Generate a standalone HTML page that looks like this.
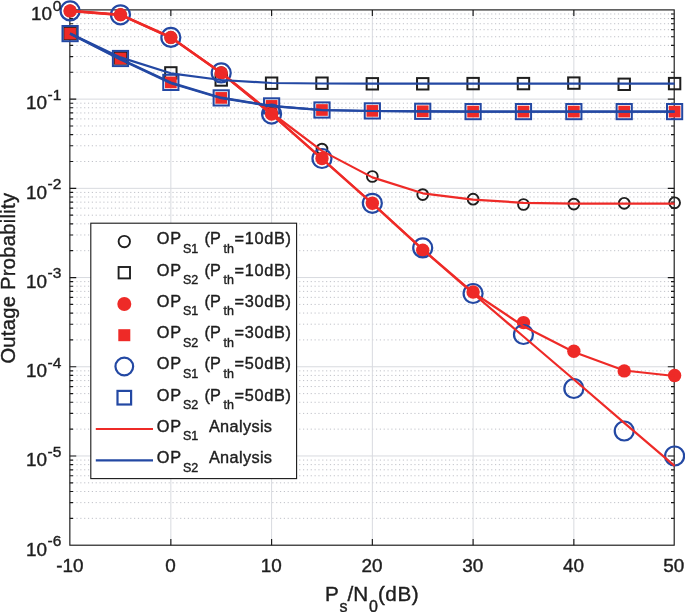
<!DOCTYPE html>
<html><head><meta charset="utf-8"><title>Outage Probability</title>
<style>html,body{margin:0;padding:0;background:#fff}svg{display:block}</style></head>
<body>
<svg width="685" height="612" viewBox="0 0 685 612" font-family="Liberation Sans, sans-serif">
<rect width="685" height="612" fill="#fff"/>
<g stroke="#c0c2c9" stroke-width="1" stroke-dasharray="1.2 2.64" fill="none">
<path d="M72.60 72.26H673.6"/>
<path d="M72.60 56.55H673.6"/>
<path d="M72.60 45.40H673.6"/>
<path d="M72.60 36.76H673.6"/>
<path d="M72.60 29.69H673.6"/>
<path d="M72.60 23.72H673.6"/>
<path d="M72.60 18.55H673.6"/>
<path d="M72.60 13.98H673.6"/>
<path d="M72.60 161.48H673.6"/>
<path d="M72.60 145.77H673.6"/>
<path d="M72.60 134.62H673.6"/>
<path d="M72.60 125.97H673.6"/>
<path d="M72.60 118.91H673.6"/>
<path d="M72.60 112.94H673.6"/>
<path d="M72.60 107.76H673.6"/>
<path d="M72.60 103.20H673.6"/>
<path d="M72.60 250.69H673.6"/>
<path d="M72.60 234.98H673.6"/>
<path d="M72.60 223.84H673.6"/>
<path d="M72.60 215.19H673.6"/>
<path d="M72.60 208.13H673.6"/>
<path d="M72.60 202.15H673.6"/>
<path d="M72.60 196.98H673.6"/>
<path d="M72.60 192.42H673.6"/>
<path d="M72.60 339.91H673.6"/>
<path d="M72.60 324.20H673.6"/>
<path d="M72.60 313.05H673.6"/>
<path d="M72.60 304.41H673.6"/>
<path d="M72.60 297.34H673.6"/>
<path d="M72.60 291.37H673.6"/>
<path d="M72.60 286.20H673.6"/>
<path d="M72.60 281.63H673.6"/>
<path d="M72.60 429.13H673.6"/>
<path d="M72.60 413.42H673.6"/>
<path d="M72.60 402.27H673.6"/>
<path d="M72.60 393.62H673.6"/>
<path d="M72.60 386.56H673.6"/>
<path d="M72.60 380.59H673.6"/>
<path d="M72.60 375.41H673.6"/>
<path d="M72.60 370.85H673.6"/>
<path d="M72.60 518.34H673.6"/>
<path d="M72.60 502.63H673.6"/>
<path d="M72.60 491.49H673.6"/>
<path d="M72.60 482.84H673.6"/>
<path d="M72.60 475.78H673.6"/>
<path d="M72.60 469.80H673.6"/>
<path d="M72.60 464.63H673.6"/>
<path d="M72.60 460.07H673.6"/>
</g>
<g stroke="#d8dadf" stroke-width="1.0" fill="none">
<path d="M70.1 99.12H674.6"/>
<path d="M70.1 188.33H674.6"/>
<path d="M70.1 277.55H674.6"/>
<path d="M70.1 366.77H674.6"/>
<path d="M70.1 455.98H674.6"/>
<path d="M170.85 9.9V545.2"/>
<path d="M271.60 9.9V545.2"/>
<path d="M372.35 9.9V545.2"/>
<path d="M473.10 9.9V545.2"/>
<path d="M573.85 9.9V545.2"/>
</g>
<g stroke="#181818" stroke-width="1.15" fill="none">
<rect x="69.85" y="9.9" width="604.35" height="535.30"/>
<path d="M170.85 545.2v-6.2M170.85 9.9v6.2"/>
<path d="M271.60 545.2v-6.2M271.60 9.9v6.2"/>
<path d="M372.35 545.2v-6.2M372.35 9.9v6.2"/>
<path d="M473.10 545.2v-6.2M473.10 9.9v6.2"/>
<path d="M573.85 545.2v-6.2M573.85 9.9v6.2"/>
<path d="M69.85 72.26h3.2M674.2 72.26h-3.2"/>
<path d="M69.85 56.55h3.2M674.2 56.55h-3.2"/>
<path d="M69.85 45.40h3.2M674.2 45.40h-3.2"/>
<path d="M69.85 36.76h3.2M674.2 36.76h-3.2"/>
<path d="M69.85 29.69h3.2M674.2 29.69h-3.2"/>
<path d="M69.85 23.72h3.2M674.2 23.72h-3.2"/>
<path d="M69.85 18.55h3.2M674.2 18.55h-3.2"/>
<path d="M69.85 13.98h3.2M674.2 13.98h-3.2"/>
<path d="M69.85 99.12h6.4M674.2 99.12h-6.4"/>
<path d="M69.85 161.48h3.2M674.2 161.48h-3.2"/>
<path d="M69.85 145.77h3.2M674.2 145.77h-3.2"/>
<path d="M69.85 134.62h3.2M674.2 134.62h-3.2"/>
<path d="M69.85 125.97h3.2M674.2 125.97h-3.2"/>
<path d="M69.85 118.91h3.2M674.2 118.91h-3.2"/>
<path d="M69.85 112.94h3.2M674.2 112.94h-3.2"/>
<path d="M69.85 107.76h3.2M674.2 107.76h-3.2"/>
<path d="M69.85 103.20h3.2M674.2 103.20h-3.2"/>
<path d="M69.85 188.33h6.4M674.2 188.33h-6.4"/>
<path d="M69.85 250.69h3.2M674.2 250.69h-3.2"/>
<path d="M69.85 234.98h3.2M674.2 234.98h-3.2"/>
<path d="M69.85 223.84h3.2M674.2 223.84h-3.2"/>
<path d="M69.85 215.19h3.2M674.2 215.19h-3.2"/>
<path d="M69.85 208.13h3.2M674.2 208.13h-3.2"/>
<path d="M69.85 202.15h3.2M674.2 202.15h-3.2"/>
<path d="M69.85 196.98h3.2M674.2 196.98h-3.2"/>
<path d="M69.85 192.42h3.2M674.2 192.42h-3.2"/>
<path d="M69.85 277.55h6.4M674.2 277.55h-6.4"/>
<path d="M69.85 339.91h3.2M674.2 339.91h-3.2"/>
<path d="M69.85 324.20h3.2M674.2 324.20h-3.2"/>
<path d="M69.85 313.05h3.2M674.2 313.05h-3.2"/>
<path d="M69.85 304.41h3.2M674.2 304.41h-3.2"/>
<path d="M69.85 297.34h3.2M674.2 297.34h-3.2"/>
<path d="M69.85 291.37h3.2M674.2 291.37h-3.2"/>
<path d="M69.85 286.20h3.2M674.2 286.20h-3.2"/>
<path d="M69.85 281.63h3.2M674.2 281.63h-3.2"/>
<path d="M69.85 366.77h6.4M674.2 366.77h-6.4"/>
<path d="M69.85 429.13h3.2M674.2 429.13h-3.2"/>
<path d="M69.85 413.42h3.2M674.2 413.42h-3.2"/>
<path d="M69.85 402.27h3.2M674.2 402.27h-3.2"/>
<path d="M69.85 393.62h3.2M674.2 393.62h-3.2"/>
<path d="M69.85 386.56h3.2M674.2 386.56h-3.2"/>
<path d="M69.85 380.59h3.2M674.2 380.59h-3.2"/>
<path d="M69.85 375.41h3.2M674.2 375.41h-3.2"/>
<path d="M69.85 370.85h3.2M674.2 370.85h-3.2"/>
<path d="M69.85 455.98h6.4M674.2 455.98h-6.4"/>
<path d="M69.85 518.34h3.2M674.2 518.34h-3.2"/>
<path d="M69.85 502.63h3.2M674.2 502.63h-3.2"/>
<path d="M69.85 491.49h3.2M674.2 491.49h-3.2"/>
<path d="M69.85 482.84h3.2M674.2 482.84h-3.2"/>
<path d="M69.85 475.78h3.2M674.2 475.78h-3.2"/>
<path d="M69.85 469.80h3.2M674.2 469.80h-3.2"/>
<path d="M69.85 464.63h3.2M674.2 464.63h-3.2"/>
<path d="M69.85 460.07h3.2M674.2 460.07h-3.2"/>
</g>
<rect x="64.40" y="27.90" width="11.4" height="11.4" fill="none" stroke="#1f1f1f" stroke-width="2.0"/>
<rect x="114.77" y="52.30" width="11.4" height="11.4" fill="none" stroke="#1f1f1f" stroke-width="2.0"/>
<rect x="165.15" y="67.20" width="11.4" height="11.4" fill="none" stroke="#1f1f1f" stroke-width="2.0"/>
<rect x="215.53" y="74.30" width="11.4" height="11.4" fill="none" stroke="#1f1f1f" stroke-width="2.0"/>
<rect x="265.90" y="77.50" width="11.4" height="11.4" fill="none" stroke="#1f1f1f" stroke-width="2.0"/>
<rect x="316.28" y="77.50" width="11.4" height="11.4" fill="none" stroke="#1f1f1f" stroke-width="2.0"/>
<rect x="366.65" y="78.10" width="11.4" height="11.4" fill="none" stroke="#1f1f1f" stroke-width="2.0"/>
<rect x="417.03" y="78.10" width="11.4" height="11.4" fill="none" stroke="#1f1f1f" stroke-width="2.0"/>
<rect x="467.40" y="77.90" width="11.4" height="11.4" fill="none" stroke="#1f1f1f" stroke-width="2.0"/>
<rect x="517.77" y="77.90" width="11.4" height="11.4" fill="none" stroke="#1f1f1f" stroke-width="2.0"/>
<rect x="568.15" y="77.40" width="11.4" height="11.4" fill="none" stroke="#1f1f1f" stroke-width="2.0"/>
<rect x="618.52" y="78.60" width="11.4" height="11.4" fill="none" stroke="#1f1f1f" stroke-width="2.0"/>
<rect x="668.90" y="77.90" width="11.4" height="11.4" fill="none" stroke="#1f1f1f" stroke-width="2.0"/>
<rect x="64.25" y="27.75" width="11.7" height="11.7" fill="#ee2a27" stroke="none" stroke-width="0"/>
<rect x="114.62" y="52.65" width="11.7" height="11.7" fill="#ee2a27" stroke="none" stroke-width="0"/>
<rect x="165.00" y="76.55" width="11.7" height="11.7" fill="#ee2a27" stroke="none" stroke-width="0"/>
<rect x="215.38" y="92.05" width="11.7" height="11.7" fill="#ee2a27" stroke="none" stroke-width="0"/>
<rect x="265.75" y="100.05" width="11.7" height="11.7" fill="#ee2a27" stroke="none" stroke-width="0"/>
<rect x="316.12" y="104.15" width="11.7" height="11.7" fill="#ee2a27" stroke="none" stroke-width="0"/>
<rect x="366.50" y="105.05" width="11.7" height="11.7" fill="#ee2a27" stroke="none" stroke-width="0"/>
<rect x="416.88" y="105.45" width="11.7" height="11.7" fill="#ee2a27" stroke="none" stroke-width="0"/>
<rect x="467.25" y="105.75" width="11.7" height="11.7" fill="#ee2a27" stroke="none" stroke-width="0"/>
<rect x="517.62" y="105.75" width="11.7" height="11.7" fill="#ee2a27" stroke="none" stroke-width="0"/>
<rect x="568.00" y="105.75" width="11.7" height="11.7" fill="#ee2a27" stroke="none" stroke-width="0"/>
<rect x="618.38" y="105.75" width="11.7" height="11.7" fill="#ee2a27" stroke="none" stroke-width="0"/>
<rect x="668.75" y="105.75" width="11.7" height="11.7" fill="#ee2a27" stroke="none" stroke-width="0"/>
<rect x="62.50" y="26.00" width="15.2" height="15.2" fill="none" stroke="#2348a3" stroke-width="2.0"/>
<rect x="112.88" y="50.90" width="15.2" height="15.2" fill="none" stroke="#2348a3" stroke-width="2.0"/>
<rect x="163.25" y="74.80" width="15.2" height="15.2" fill="none" stroke="#2348a3" stroke-width="2.0"/>
<rect x="213.62" y="90.30" width="15.2" height="15.2" fill="none" stroke="#2348a3" stroke-width="2.0"/>
<rect x="264.00" y="98.30" width="15.2" height="15.2" fill="none" stroke="#2348a3" stroke-width="2.0"/>
<rect x="314.38" y="102.40" width="15.2" height="15.2" fill="none" stroke="#2348a3" stroke-width="2.0"/>
<rect x="364.75" y="103.30" width="15.2" height="15.2" fill="none" stroke="#2348a3" stroke-width="2.0"/>
<rect x="415.12" y="103.70" width="15.2" height="15.2" fill="none" stroke="#2348a3" stroke-width="2.0"/>
<rect x="465.50" y="104.00" width="15.2" height="15.2" fill="none" stroke="#2348a3" stroke-width="2.0"/>
<rect x="515.88" y="104.00" width="15.2" height="15.2" fill="none" stroke="#2348a3" stroke-width="2.0"/>
<rect x="566.25" y="104.00" width="15.2" height="15.2" fill="none" stroke="#2348a3" stroke-width="2.0"/>
<rect x="616.62" y="104.00" width="15.2" height="15.2" fill="none" stroke="#2348a3" stroke-width="2.0"/>
<rect x="667.00" y="104.00" width="15.2" height="15.2" fill="none" stroke="#2348a3" stroke-width="2.0"/>
<circle cx="70.10" cy="10.90" r="5.4" fill="none" stroke="#1f1f1f" stroke-width="1.9"/>
<circle cx="120.47" cy="14.70" r="5.4" fill="none" stroke="#1f1f1f" stroke-width="1.9"/>
<circle cx="170.85" cy="37.40" r="5.4" fill="none" stroke="#1f1f1f" stroke-width="1.9"/>
<circle cx="221.22" cy="72.50" r="5.4" fill="none" stroke="#1f1f1f" stroke-width="1.9"/>
<circle cx="271.60" cy="113.50" r="5.4" fill="none" stroke="#1f1f1f" stroke-width="1.9"/>
<circle cx="321.98" cy="149.10" r="5.4" fill="none" stroke="#1f1f1f" stroke-width="1.9"/>
<circle cx="372.35" cy="176.50" r="5.4" fill="none" stroke="#1f1f1f" stroke-width="1.9"/>
<circle cx="422.73" cy="194.60" r="5.4" fill="none" stroke="#1f1f1f" stroke-width="1.9"/>
<circle cx="473.10" cy="199.20" r="5.4" fill="none" stroke="#1f1f1f" stroke-width="1.9"/>
<circle cx="523.48" cy="204.50" r="5.4" fill="none" stroke="#1f1f1f" stroke-width="1.9"/>
<circle cx="573.85" cy="204.10" r="5.4" fill="none" stroke="#1f1f1f" stroke-width="1.9"/>
<circle cx="624.23" cy="203.30" r="5.4" fill="none" stroke="#1f1f1f" stroke-width="1.9"/>
<circle cx="674.60" cy="202.80" r="5.4" fill="none" stroke="#1f1f1f" stroke-width="1.9"/>
<circle cx="70.10" cy="10.90" r="6.7" fill="#ee2a27" stroke="none" stroke-width="0"/>
<circle cx="120.47" cy="14.80" r="6.7" fill="#ee2a27" stroke="none" stroke-width="0"/>
<circle cx="170.85" cy="37.40" r="6.7" fill="#ee2a27" stroke="none" stroke-width="0"/>
<circle cx="221.22" cy="72.90" r="6.7" fill="#ee2a27" stroke="none" stroke-width="0"/>
<circle cx="271.60" cy="114.10" r="6.7" fill="#ee2a27" stroke="none" stroke-width="0"/>
<circle cx="321.98" cy="158.50" r="6.7" fill="#ee2a27" stroke="none" stroke-width="0"/>
<circle cx="372.35" cy="203.30" r="6.7" fill="#ee2a27" stroke="none" stroke-width="0"/>
<circle cx="422.73" cy="250.30" r="6.7" fill="#ee2a27" stroke="none" stroke-width="0"/>
<circle cx="473.10" cy="292.00" r="6.7" fill="#ee2a27" stroke="none" stroke-width="0"/>
<circle cx="523.48" cy="322.60" r="6.7" fill="#ee2a27" stroke="none" stroke-width="0"/>
<circle cx="573.85" cy="351.20" r="6.7" fill="#ee2a27" stroke="none" stroke-width="0"/>
<circle cx="624.23" cy="370.90" r="6.7" fill="#ee2a27" stroke="none" stroke-width="0"/>
<circle cx="674.60" cy="375.50" r="6.7" fill="#ee2a27" stroke="none" stroke-width="0"/>
<circle cx="70.10" cy="10.90" r="9.5" fill="none" stroke="#2348a3" stroke-width="2.2"/>
<circle cx="120.47" cy="14.80" r="9.5" fill="none" stroke="#2348a3" stroke-width="2.2"/>
<circle cx="170.85" cy="37.40" r="9.5" fill="none" stroke="#2348a3" stroke-width="2.2"/>
<circle cx="221.22" cy="72.90" r="9.5" fill="none" stroke="#2348a3" stroke-width="2.2"/>
<circle cx="271.60" cy="114.10" r="9.5" fill="none" stroke="#2348a3" stroke-width="2.2"/>
<circle cx="321.98" cy="158.50" r="9.5" fill="none" stroke="#2348a3" stroke-width="2.2"/>
<circle cx="372.35" cy="203.30" r="9.5" fill="none" stroke="#2348a3" stroke-width="2.2"/>
<circle cx="422.73" cy="247.90" r="9.5" fill="none" stroke="#2348a3" stroke-width="2.2"/>
<circle cx="473.10" cy="293.50" r="9.5" fill="none" stroke="#2348a3" stroke-width="2.2"/>
<circle cx="523.48" cy="334.50" r="9.5" fill="none" stroke="#2348a3" stroke-width="2.2"/>
<circle cx="573.85" cy="388.50" r="9.5" fill="none" stroke="#2348a3" stroke-width="2.2"/>
<circle cx="624.23" cy="431.00" r="9.5" fill="none" stroke="#2348a3" stroke-width="2.2"/>
<circle cx="674.60" cy="456.00" r="9.5" fill="none" stroke="#2348a3" stroke-width="2.2"/>
<polyline points="70.10,10.70 120.47,14.50 170.85,37.10 221.22,72.60 271.60,113.00 321.98,150.90 372.35,177.40 422.73,193.30 473.10,199.60 523.48,202.80 573.85,203.70 624.23,203.70 674.60,203.70" fill="none" stroke="#ee2a27" stroke-width="2.2" stroke-linejoin="round"/>
<polyline points="70.10,10.90 120.47,14.80 170.85,37.40 221.22,72.90 271.60,114.10 321.98,158.50 372.35,203.30 422.73,249.40 473.10,292.50 523.48,326.20 573.85,352.00 624.23,370.50 674.60,376.00" fill="none" stroke="#ee2a27" stroke-width="2.2" stroke-linejoin="round"/>
<polyline points="70.10,11.10 120.47,15.10 170.85,37.70 221.22,73.20 271.60,114.40 321.98,158.80 372.35,203.60 422.73,249.60 473.10,293.50 523.48,336.50 573.85,379.50 624.23,422.80 674.60,465.80" fill="none" stroke="#ee2a27" stroke-width="2.2" stroke-linejoin="round"/>
<polyline points="70.10,33.60 120.47,57.40 170.85,73.30 221.22,80.00 271.60,83.00 321.98,83.50 372.35,83.60 422.73,83.60 473.10,83.60 523.48,83.60 573.85,83.60 624.23,83.60 674.60,83.60" fill="none" stroke="#2348a3" stroke-width="2.2" stroke-linejoin="round"/>
<polyline points="70.10,33.60 120.47,59.00 170.85,82.60 221.22,97.70 271.60,105.90 321.98,110.00 372.35,111.00 422.73,111.40 473.10,111.60 523.48,111.60 573.85,111.60 624.23,111.60 674.60,111.60" fill="none" stroke="#2348a3" stroke-width="2.2" stroke-linejoin="round"/>
<polyline points="70.10,33.80 120.47,59.60 170.85,83.30 221.22,98.20 271.60,106.20 321.98,110.10 372.35,111.00 422.73,111.40 473.10,111.60 523.48,111.60 573.85,111.60 624.23,111.60 674.60,111.60" fill="none" stroke="#2348a3" stroke-width="2.2" stroke-linejoin="round"/>
<g fill="#1e1e1e" font-size="18.9" stroke="#1e1e1e" stroke-width="0.4">
<text x="69.80" y="572.3" text-anchor="middle">-10</text>
<text x="170.55" y="572.3" text-anchor="middle">0</text>
<text x="271.30" y="572.3" text-anchor="middle">10</text>
<text x="372.05" y="572.3" text-anchor="middle">20</text>
<text x="472.80" y="572.3" text-anchor="middle">30</text>
<text x="573.55" y="572.3" text-anchor="middle">40</text>
<text x="673.80" y="572.3" text-anchor="middle">50</text>
<text x="61.3" y="20.20" text-anchor="end">10<tspan font-size="15.5" dy="-9.4" dx="0.6">0</tspan></text>
<text x="61.3" y="109.42" text-anchor="end">10<tspan font-size="15.5" dy="-9.4" dx="0.6">-1</tspan></text>
<text x="61.3" y="198.63" text-anchor="end">10<tspan font-size="15.5" dy="-9.4" dx="0.6">-2</tspan></text>
<text x="61.3" y="287.85" text-anchor="end">10<tspan font-size="15.5" dy="-9.4" dx="0.6">-3</tspan></text>
<text x="61.3" y="377.07" text-anchor="end">10<tspan font-size="15.5" dy="-9.4" dx="0.6">-4</tspan></text>
<text x="61.3" y="466.28" text-anchor="end">10<tspan font-size="15.5" dy="-9.4" dx="0.6">-5</tspan></text>
<text x="61.3" y="555.50" text-anchor="end">10<tspan font-size="15.5" dy="-9.4" dx="0.6">-6</tspan></text>
</g>
<text y="600.5" font-size="20.7" fill="#1e1e1e" stroke="#1e1e1e" stroke-width="0.4"><tspan x="325.1">P</tspan><tspan x="339.6" font-size="16" dy="11.3">s</tspan><tspan x="347.6" dy="-11.3">/N</tspan><tspan x="368.9" font-size="16" dy="11.3">0</tspan><tspan x="377.9" dy="-11.3" textLength="40.8">(dB)</tspan></text>
<text transform="translate(15.2 278.3) rotate(-90)" text-anchor="middle" font-size="20.2" textLength="170.6" fill="#1e1e1e" stroke="#1e1e1e" stroke-width="0.4">Outage Probability</text>
<rect x="90.8" y="223.2" width="205.8" height="255.4" fill="#fff" stroke="#181818" stroke-width="1.1"/>
<circle cx="124.30" cy="241.50" r="5.7" fill="none" stroke="#1f1f1f" stroke-width="1.85"/>
<rect x="118.60" y="267.00" width="11.4" height="11.4" fill="none" stroke="#1f1f1f" stroke-width="1.9"/>
<circle cx="124.30" cy="304.00" r="7.0" fill="#ee2a27" stroke="none" stroke-width="0"/>
<rect x="118.30" y="329.20" width="12.0" height="12.0" fill="#ee2a27" stroke="none" stroke-width="0"/>
<circle cx="124.30" cy="366.50" r="8.85" fill="none" stroke="#2348a3" stroke-width="2.2"/>
<rect x="117.50" y="390.90" width="13.6" height="13.6" fill="none" stroke="#2348a3" stroke-width="2.2"/>
<path d="M95.8 429.0H153" stroke="#ee2a27" stroke-width="2.2"/>
<path d="M95.8 460.4H153" stroke="#2348a3" stroke-width="2.2"/>
<g fill="#1e1e1e" font-size="16.3" stroke="#1e1e1e" stroke-width="0.4">
<text y="244.30"><tspan x="156.8" textLength="24.2">OP</tspan><tspan x="182.9" font-size="12.5" dy="8.5">S1</tspan><tspan x="204.6" dy="-8.5">(P</tspan><tspan x="223.5" font-size="12.5" dy="8.5">th</tspan><tspan x="234.5" dy="-8.5" textLength="56.4">=10dB)</tspan></text>
<text y="275.50"><tspan x="156.8" textLength="24.2">OP</tspan><tspan x="182.9" font-size="12.5" dy="8.5">S2</tspan><tspan x="204.6" dy="-8.5">(P</tspan><tspan x="223.5" font-size="12.5" dy="8.5">th</tspan><tspan x="234.5" dy="-8.5" textLength="56.4">=10dB)</tspan></text>
<text y="306.80"><tspan x="156.8" textLength="24.2">OP</tspan><tspan x="182.9" font-size="12.5" dy="8.5">S1</tspan><tspan x="204.6" dy="-8.5">(P</tspan><tspan x="223.5" font-size="12.5" dy="8.5">th</tspan><tspan x="234.5" dy="-8.5" textLength="56.4">=30dB)</tspan></text>
<text y="338.00"><tspan x="156.8" textLength="24.2">OP</tspan><tspan x="182.9" font-size="12.5" dy="8.5">S2</tspan><tspan x="204.6" dy="-8.5">(P</tspan><tspan x="223.5" font-size="12.5" dy="8.5">th</tspan><tspan x="234.5" dy="-8.5" textLength="56.4">=30dB)</tspan></text>
<text y="369.30"><tspan x="156.8" textLength="24.2">OP</tspan><tspan x="182.9" font-size="12.5" dy="8.5">S1</tspan><tspan x="204.6" dy="-8.5">(P</tspan><tspan x="223.5" font-size="12.5" dy="8.5">th</tspan><tspan x="234.5" dy="-8.5" textLength="56.4">=50dB)</tspan></text>
<text y="400.50"><tspan x="156.8" textLength="24.2">OP</tspan><tspan x="182.9" font-size="12.5" dy="8.5">S2</tspan><tspan x="204.6" dy="-8.5">(P</tspan><tspan x="223.5" font-size="12.5" dy="8.5">th</tspan><tspan x="234.5" dy="-8.5" textLength="56.4">=50dB)</tspan></text>
<text y="431.80"><tspan x="156.8" textLength="24.2">OP</tspan><tspan x="182.9" font-size="12.5" dy="8.5">S1</tspan><tspan x="208.9" dy="-8.5" textLength="63.1">Analysis</tspan></text>
<text y="463.20"><tspan x="156.8" textLength="24.2">OP</tspan><tspan x="182.9" font-size="12.5" dy="8.5">S2</tspan><tspan x="208.9" dy="-8.5" textLength="63.1">Analysis</tspan></text>
</g>
</svg>
</body></html>
